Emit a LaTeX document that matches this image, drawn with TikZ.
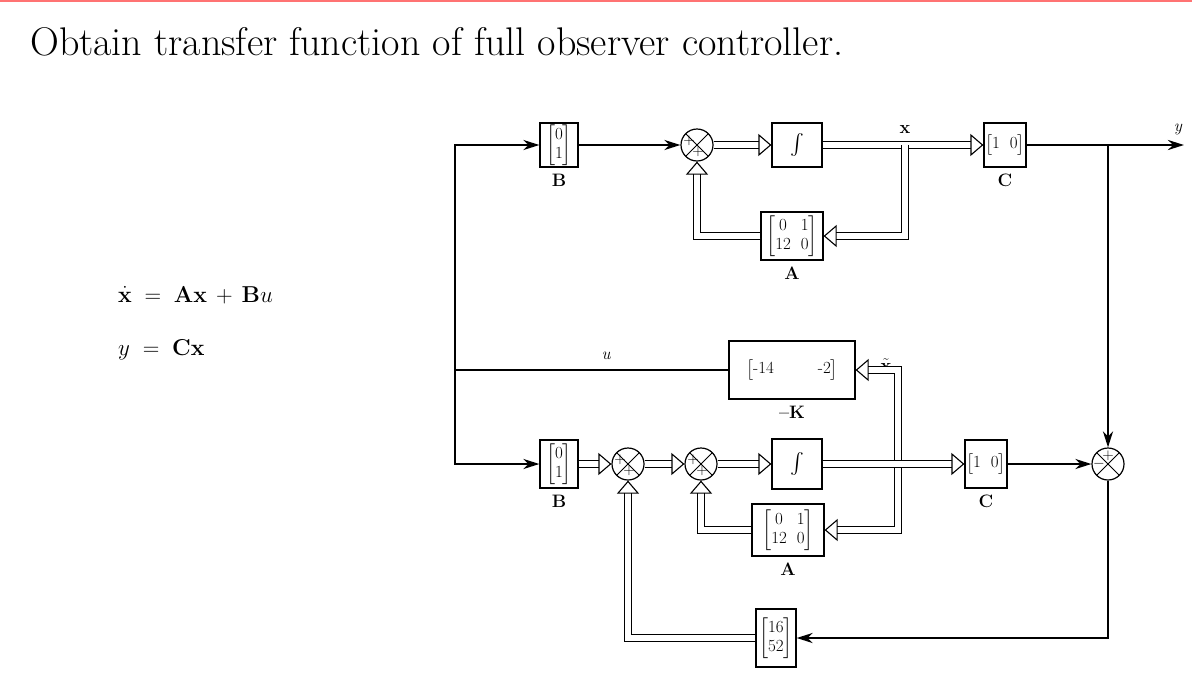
\RequirePackage{fix-cm}
\documentclass[tikz,border=0pt]{standalone}
\usepackage{amsmath}
\usepackage{amssymb}
\usetikzlibrary{positioning,arrows.meta,calc}
\tikzset{
    blk/.style={draw, line width=1.2pt, minimum width=38pt, minimum height=44pt, inner sep=1pt, font=\fontsize{17}{19}\selectfont},
    sumc/.style={draw, circle, line width=1.2pt, minimum size=32pt, inner sep=0pt,
        path picture={\draw[line width=0.8pt] (path picture bounding box.north west) -- (path picture bounding box.south east)
            (path picture bounding box.north east) -- (path picture bounding box.south west);}},
    sgn/.style={font=\fontsize{15}{16}\selectfont, inner sep=0pt},
    sig/.style={line width=2.6pt, -{Stealth[length=16pt, width=10pt]}},
    vec/.style={double, double distance=6pt, line width=1.1pt, -{Triangle[open, length=13pt, width=22pt, line width=1.1pt]}},
    lbl/.style={font=\bfseries\fontsize{18}{20}\selectfont}
}
\begin{document}
\begin{tikzpicture}[x=1pt, y=-1pt]
    \useasboundingbox (0,0) rectangle (1192,678);
    \draw[red!55, line width=1.5pt] (0,1) -- (1192,1);
    \node[anchor=base west, inner sep=0pt, font=\fontsize{40}{46}\selectfont] (title) at (30,55) {Obtain transfer function of full observer controller.};
    \node[anchor=base west, inner sep=0pt, font=\fontsize{23}{26}\selectfont] (eq1) at (118,302) {$\dot{\mathbf{x}} \;=\; \mathbf{A}\mathbf{x} \,+\, \mathbf{B}u$};
    \node[anchor=base west, inner sep=0pt, font=\fontsize{23}{26}\selectfont] (eq2) at (118,355) {$y \;=\; \mathbf{C}\mathbf{x}$};

    % plant
    \node[blk] (B1) at (559,145) {$\begin{bmatrix}0\\1\end{bmatrix}$};
    \node[sumc] (s1) at (697,145) {};
    \node[blk, minimum width=50pt, minimum height=44pt] (I1) at (797,145) {\huge$\boldsymbol{\int}$};
    \node[blk, minimum width=42pt] (C1) at (1005,145) {$\begin{bmatrix}1 & 0\end{bmatrix}$};
    \node[blk, minimum width=62pt, minimum height=48pt] (A1) at (792,236) {$\begin{bmatrix}0 & 1\\ 12 & 0\end{bmatrix}$};
    \node[lbl, below=3pt of B1] (B1l) {B};
    \node[lbl, below=3pt of C1] (C1l) {C};
    \node[lbl, below=3pt of A1] (A1l) {A};
    \node[sgn] at ($(s1)+(-8,-4)$) {$+$};
    \node[sgn] at ($(s1)+(1,7)$) {$+$};
    \coordinate (br1) at (905,145);
    \coordinate (yb) at (1108,145);
    \coordinate (yout) at (1184,145);
    \node[lbl] at (905,129) {x};
    \node[font=\itshape\fontsize{17}{18}\selectfont] at (1178,129) {y};

    % controller
    \node[blk, minimum width=126pt, minimum height=58pt] (K) at (792,370) {$\begin{bmatrix}\text{-14} & \qquad\text{-2}\end{bmatrix}$};
    \node[lbl, below=3pt of K] (Kl) {--K};
    \node[font=\itshape\fontsize{17}{18}\selectfont] at (606,356) {u};
    \node[lbl] at (886,365) {$\tilde{\mathbf{x}}$};
    \coordinate (lft) at (455,370);

    % observer
    \node[blk, minimum height=48pt] (B2) at (559,464) {$\begin{bmatrix}0\\1\end{bmatrix}$};
    \node[sumc] (s2) at (628,464) {};
    \node[sumc] (s3) at (701,464) {};
    \node[blk, minimum width=50pt, minimum height=50pt] (I2) at (797,464) {\huge$\boldsymbol{\int}$};
    \node[blk, minimum width=42pt, minimum height=48pt] (C2) at (986,464) {$\begin{bmatrix}1 & 0\end{bmatrix}$};
    \node[sumc] (s4) at (1108,464) {};
    \node[blk, minimum width=72pt, minimum height=52pt] (A2) at (788,530) {$\begin{bmatrix}0 & 1\\ 12 & 0\end{bmatrix}$};
    \node[blk, minimum width=40pt, minimum height=58pt] (L) at (776,638) {$\begin{bmatrix}16\\52\end{bmatrix}$};
    \node[lbl, below=3pt of B2] (B2l) {B};
    \node[lbl, below=3pt of C2] (C2l) {C};
    \node[lbl, below=3pt of A2] (A2l) {A};
    \node[sgn] at ($(s2)+(-8,-4)$) {$+$};
    \node[sgn] at ($(s2)+(1,7)$) {$+$};
    \node[sgn] at ($(s3)+(-8,-4)$) {$+$};
    \node[sgn] at ($(s3)+(1,7)$) {$+$};
    \node[sgn] at ($(s4)+(0,-8)$) {$+$};
    \node[sgn] at ($(s4)+(-9,0)$) {$-$};
    \coordinate (br2) at (898,464);

    % scalar signals
    \draw[sig] (lft) |- (B1.west);
    \draw[sig] (lft) |- (B2.west);
    \draw[line width=2.6pt] (K.west) -- (lft);
    \draw[sig] (B1.east) -- (s1.west);
    \draw[sig] (C1.east) -- (yout);
    \draw[sig] (yb) -- (s4.north);
    \draw[sig] (C2.east) -- (s4.west);
    \draw[sig] (s4.south) |- (L.east);

    % vector signals
    \draw[vec] (s1.east) -- (I1.west);
    \draw[vec] (I1.east) -- (C1.west);
    \draw[vec] (br1) |- (A1.east);
    \draw[vec] (A1.west) -| (s1.south);
    \draw[vec] (B2.east) -- (s2.west);
    \draw[vec] (s2.east) -- (s3.west);
    \draw[vec] (s3.east) -- (I2.west);
    \draw[vec] (br2) |- (K.east);
    \draw[vec] (br2) |- (A2.east);
    \draw[vec] (I2.east) -- (C2.west);
    \draw[vec] (A2.west) -| (s3.south);
    \draw[vec] (L.west) -| (s2.south);
\end{tikzpicture}
\end{document}
